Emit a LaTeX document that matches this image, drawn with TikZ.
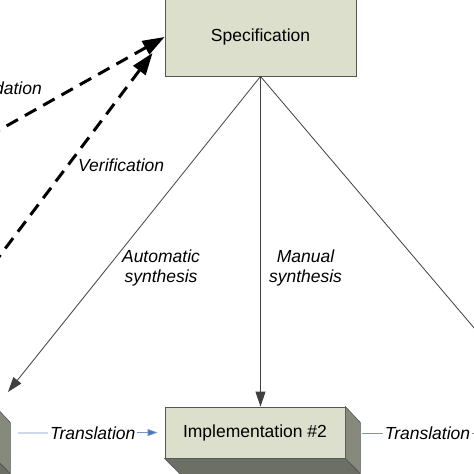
\documentclass[tikz,border=0pt]{standalone}
\usepackage{fontspec}
\setmainfont{Liberation Sans}
\usetikzlibrary{arrows.meta}
\definecolor{boxfill}{RGB}{220,223,203}
\definecolor{boxline}{RGB}{85,85,85}
\definecolor{sideface}{RGB}{134,138,124}
\definecolor{bottomface}{RGB}{108,111,102}
\definecolor{transline}{RGB}{120,150,200}
\definecolor{transhead}{RGB}{70,115,185}
\tikzset{
  flatbox/.style={draw=boxline, fill=boxfill, line width=0.8pt, minimum width=191pt, minimum height=78pt, inner sep=0pt, font=\fontsize{17.5}{20.5}\selectfont},
  implbox/.style={draw=boxline, fill=boxfill, line width=0.8pt, minimum width=180pt, minimum height=51pt, inner sep=0pt, font=\fontsize{17.5}{20.5}\selectfont},
  sidestyle/.style={draw=boxline, fill=sideface, line width=0.6pt},
  bottomstyle/.style={draw=boxline, fill=bottomface, line width=0.6pt},
  synth/.style={draw=black!75, line width=0.8pt, -{Triangle[length=15pt,width=10pt]}},
  checkarrow/.style={draw=black, line width=3pt, dash pattern=on 13pt off 8pt, -{Triangle[length=22pt,width=15pt]}},
  transarrow/.style={draw=transline, line width=0.8pt, -{Triangle[length=10pt,width=7pt,fill=transhead]}},
  lbl/.style={font=\fontsize{17.5}{20.5}\selectfont\itshape, inner sep=1pt, align=center},
  translbl/.style={font=\fontsize{17.5}{20.5}\selectfont\itshape, fill=white, inner sep=2pt}
}
\begin{document}
\begin{tikzpicture}[x=1pt,y=-1pt]
\useasboundingbox (0,0) rectangle (474,474);
\clip (0,0) rectangle (474,474);
\fill[white] (0,0) rectangle (474,474);

% Specification box
\node[flatbox] (spec) at (260.5,37) {Specification};

% Implementation #1 (mostly off picture)
\node[implbox] (impl1) at (-95,432.5) {};
\filldraw[bottomstyle] (impl1.south west) -- (impl1.south east) -- ++(15,16) -- ++(-180,0) -- cycle;
\filldraw[sidestyle] (impl1.north east) -- ++(15,16) -- ++(0,51) -- (impl1.south east) -- cycle;

% Implementation #2
\node[implbox] (impl2) at (255,432.5) {Implementation \#2};
\filldraw[bottomstyle] (impl2.south west) -- (impl2.south east) -- ++(15,16) -- ++(-180,0) -- cycle;
\filldraw[sidestyle] (impl2.north east) -- ++(15,16) -- ++(0,51) -- (impl2.south east) -- cycle;

% free ends
\coordinate (a1) at (8,392);
\coordinate (r1) at (520,382);
\coordinate (v0) at (-30,146.5);
\coordinate (v1) at (-20,282);
\coordinate (t0) at (18,433);
\coordinate (t1) at (362,433);
\coordinate (t2) at (480,433);

% synthesis lines
\draw[synth] (spec.south) -- (a1);
\draw[synth] (spec.south) -- (spec.south |- impl2.north);
\draw[draw=black!75, line width=0.8pt] (spec.south) -- (r1);

% validation / verification
\draw[checkarrow] (v0) -- (spec.west);
\draw[checkarrow, shorten >=20pt] (v1) -- (spec.west);

% translations
\draw[transarrow, shorten >=7pt] (t0) -- (impl2.west) node[pos=0.51, translbl] (tr1) {Translation};
\draw[draw=transline, line width=0.8pt] (t1) -- (t2) node[pos=0.555, translbl] (tr2) {Translation};

% labels
\node[lbl, anchor=east] (val) at (43,88) {Validation};
\node[lbl, anchor=west] (ver) at (77,165) {Verification};
\node[lbl] (auto) at (161,268) {Automatic\\synthesis};
\node[lbl] (man) at (305.5,268) {Manual\\synthesis};
\end{tikzpicture}
\end{document}
